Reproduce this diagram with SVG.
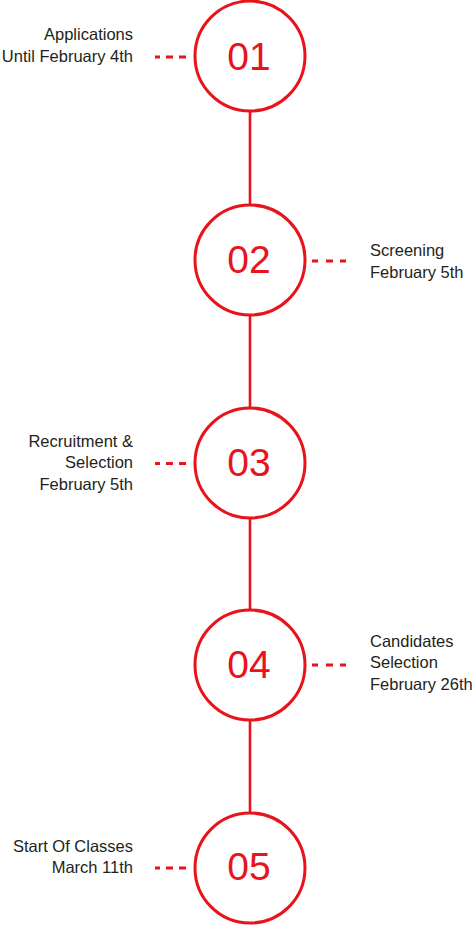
<svg xmlns="http://www.w3.org/2000/svg" width="474" height="926" viewBox="0 0 474 926">
<style>
.circ{fill:#fff;stroke:#e8131b;stroke-width:3}
.conn{stroke:#e8131b;stroke-width:2.6;fill:none}
.dash{stroke:#e8131b;stroke-width:3;fill:none}
.num{font-family:"Liberation Sans",Arial,sans-serif;font-size:39px;fill:#e8131b;text-anchor:middle}
.lbl{font-family:"Liberation Sans",Arial,sans-serif;font-size:16.5px;fill:#231f20}
.r{text-anchor:end}
.l{text-anchor:start}
</style>
<rect width="474" height="926" fill="#fff"/>
<g id="connectors">
<line class="conn" x1="250" y1="111" x2="250" y2="205"/>
<line class="conn" x1="250" y1="315" x2="250" y2="408"/>
<line class="conn" x1="250" y1="518" x2="250" y2="610"/>
<line class="conn" x1="250" y1="720" x2="250" y2="813"/>
<path class="dash" d="M155 57h5M166 57h7M179 57h7"/>
<path class="dash" d="M312 261h6M326 261h7M340 261h6"/>
<path class="dash" d="M155 463.5h5M166 463.5h7M179 463.5h7"/>
<path class="dash" d="M312 665h6M326 665h7M340 665h6"/>
<path class="dash" d="M155 868h5M166 868h7M179 868h7"/>
</g>
<g id="step01">
<circle class="circ" cx="250" cy="56" r="55"/>
<text class="num" x="249" y="69.5">01</text>
<text class="lbl r" x="133" y="39.5">Applications</text>
<text class="lbl r" x="133" y="61.5">Until February 4th</text>
</g>
<g id="step02">
<circle class="circ" cx="250" cy="260" r="55"/>
<text class="num" x="249" y="273">02</text>
<text class="lbl l" x="370" y="256">Screening</text>
<text class="lbl l" x="370" y="277.5">February 5th</text>
</g>
<g id="step03">
<circle class="circ" cx="250" cy="463" r="55"/>
<text class="num" x="249" y="476">03</text>
<text class="lbl r" x="133" y="446.5">Recruitment &amp;</text>
<text class="lbl r" x="133" y="468.3">Selection</text>
<text class="lbl r" x="133" y="490">February 5th</text>
</g>
<g id="step04">
<circle class="circ" cx="250" cy="665" r="55"/>
<text class="num" x="249" y="678">04</text>
<text class="lbl l" x="370" y="646.5">Candidates</text>
<text class="lbl l" x="370" y="668.3">Selection</text>
<text class="lbl l" x="370" y="689.5">February 26th</text>
</g>
<g id="step05">
<circle class="circ" cx="250" cy="868" r="55"/>
<text class="num" x="249" y="880">05</text>
<text class="lbl r" x="133" y="851.5">Start Of Classes</text>
<text class="lbl r" x="133" y="873.3">March 11th</text>
</g>
</svg>
